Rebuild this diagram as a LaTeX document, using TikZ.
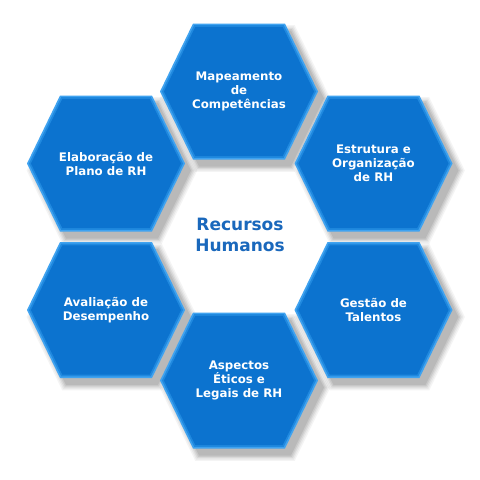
\documentclass[tikz,border=0pt]{standalone}
\usepackage{fontspec}
\setmainfont{DejaVu Sans}
\definecolor{hexouter}{HTML}{40A3F0}
\definecolor{hexmid}{HTML}{2089DF}
\definecolor{hexinner}{HTML}{0C73CF}
\definecolor{centerblue}{HTML}{1A68BC}
\newcommand\hexshape{(79,0) -- (46,68) -- (-46,68) -- (-79,0) -- (-46,-68) -- (46,-68) -- cycle}
\newcommand\hexshadow[2]{%
  \begin{scope}[shift={(#1,#2)}]
    \foreach \s/\o in {1.08/0.06,1.06/0.07,1.04/0.09,1.02/0.11,1.0/0.12}
      \fill[black!70, opacity=\o, shift={(6,7)}, scale=\s] \hexshape;
  \end{scope}}
\newcommand\hexbody[4]{%
  \begin{scope}[shift={(#2,#3)}]
    \fill[hexouter] \hexshape;
    \fill[hexmid, scale=0.975] \hexshape;
    \fill[hexinner, scale=0.95] \hexshape;
  \end{scope}
  \node[hextext] (#1) at (#2,#3) {#4};}
\tikzset{
  hextext/.style={text=white, align=center, inner sep=0pt,
    font=\fontsize{11.8}{14}\selectfont\bfseries},
  centertext/.style={text=centerblue, align=center, inner sep=0pt,
    font=\fontsize{17}{21}\selectfont\bfseries}
}
\begin{document}
\begin{tikzpicture}[x=1pt,y=-1pt]
\useasboundingbox (0,0) rectangle (480,480);
\fill[white] (0,0) rectangle (480,480);
\hexshadow{239}{91.5}
\hexshadow{106}{163.5}
\hexshadow{373.5}{163.5}
\hexshadow{106}{310}
\hexshadow{373.5}{310}
\hexshadow{239}{380.5}
\hexbody{mapa}{239}{91.5}{Mapeamento\\de\\Competências}
\hexbody{elab}{106}{163.5}{Elaboração de\\Plano de RH}
\hexbody{estr}{373.5}{163.5}{Estrutura e\\Organização\\de RH}
\hexbody{aval}{106}{310}{Avaliação de\\Desempenho}
\hexbody{gest}{373.5}{310}{Gestão de\\Talentos}
\hexbody{aspe}{239}{380.5}{Aspectos\\Éticos e\\Legais de RH}
\node[centertext] (rh) at (240,235) {Recursos\\Humanos};
\end{tikzpicture}
\end{document}
